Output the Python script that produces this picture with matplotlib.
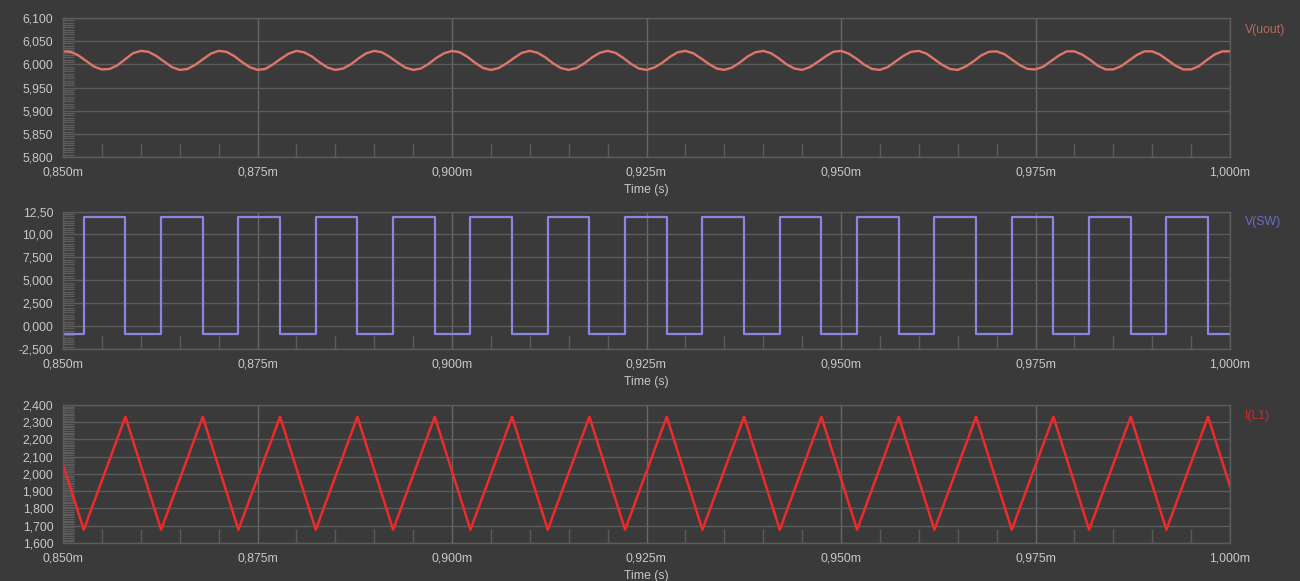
import matplotlib
matplotlib.use('Agg')
import matplotlib.pyplot as plt
from matplotlib.ticker import MultipleLocator
import numpy as np

plt.rcParams['font.family'] = ['Liberation Sans', 'DejaVu Sans']

# ---- data (time in ms) ----
# V(uout) sampled every 1 us from 0.850m to 1.000m
t_out = np.round(np.arange(0.850, 1.0005, 0.001), 3)
v_out = [6.028, 6.027, 6.019, 6.007, 5.995, 5.989, 5.990, 5.998, 6.011, 6.024,
         6.029, 6.027, 6.018, 6.006, 5.994, 5.988, 5.990, 5.999, 6.011, 6.023,
         6.029, 6.027, 6.018, 6.005, 5.994, 5.988, 5.990, 6.000, 6.012, 6.023,
         6.029, 6.026, 6.017, 6.004, 5.993, 5.988, 5.991, 6.000, 6.013, 6.024,
         6.029, 6.026, 6.016, 6.004, 5.993, 5.988, 5.991, 6.001, 6.014, 6.024,
         6.029, 6.026, 6.016, 6.003, 5.992, 5.988, 5.992, 6.002, 6.014, 6.025,
         6.029, 6.025, 6.015, 6.002, 5.992, 5.988, 5.992, 6.002, 6.015, 6.025,
         6.029, 6.025, 6.014, 6.001, 5.991, 5.988, 5.993, 6.003, 6.016, 6.026,
         6.029, 6.024, 6.013, 6.001, 5.991, 5.988, 5.993, 6.004, 6.017, 6.026,
         6.029, 6.024, 6.013, 6.000, 5.991, 5.988, 5.994, 6.005, 6.017, 6.027,
         6.029, 6.023, 6.012, 5.999, 5.990, 5.988, 5.994, 6.006, 6.018, 6.027,
         6.029, 6.023, 6.011, 5.999, 5.990, 5.988, 5.995, 6.006, 6.019, 6.027,
         6.028, 6.022, 6.010, 5.998, 5.990, 5.989, 5.995, 6.007, 6.019, 6.028,
         6.028, 6.021, 6.010, 5.997, 5.989, 5.989, 5.996, 6.008, 6.020, 6.028,
         6.028, 6.021, 6.009, 5.997, 5.989, 5.989, 5.996, 6.009, 6.021, 6.028,
         6.028]

# V(SW): switch-on / switch-off instants and levels
sw_on = [0.85267, 0.86261, 0.87255, 0.88249, 0.89243, 0.90237, 0.91231, 0.92225,
         0.93219, 0.94213, 0.95207, 0.96201, 0.97195, 0.98189, 0.99183]
sw_off = [0.85802, 0.86796, 0.87790, 0.88784, 0.89778, 0.90772, 0.91766, 0.92760,
          0.93754, 0.94748, 0.95742, 0.96736, 0.97730, 0.98724, 0.99718]
sw_high = 11.9
sw_low = -0.85

# I(L1): valley / peak instants and values
il_valley_t = [0.85267, 0.86261, 0.87255, 0.88249, 0.89243, 0.90237, 0.91231, 0.92225,
               0.93219, 0.94213, 0.95207, 0.96201, 0.97195, 0.98189, 0.99183]
il_peak_t = [0.85802, 0.86796, 0.87790, 0.88784, 0.89778, 0.90772, 0.91766, 0.92760,
             0.93754, 0.94748, 0.95742, 0.96736, 0.97730, 0.98724, 0.99718]
il_valley = 1.677
il_peak = 2.332
il_start = 2.055
il_end = 1.928

t_start, t_end = 0.850, 1.000
x_ticks = [0.850, 0.875, 0.900, 0.925, 0.950, 0.975, 1.000]
x_labels = ['0,850m', '0,875m', '0,900m', '0,925m', '0,950m', '0,975m', '1,000m']

y1_ticks = [5.80, 5.85, 5.90, 5.95, 6.00, 6.05, 6.10]
y1_labels = ['5,800', '5,850', '5,900', '5,950', '6,000', '6,050', '6,100']
y2_ticks = [-2.5, 0.0, 2.5, 5.0, 7.5, 10.0, 12.5]
y2_labels = ['-2,500', '0,000', '2,500', '5,000', '7,500', '10,00', '12,50']
y3_ticks = [1.6, 1.7, 1.8, 1.9, 2.0, 2.1, 2.2, 2.3, 2.4]
y3_labels = ['1,600', '1,700', '1,800', '1,900', '2,000', '2,100', '2,200', '2,300', '2,400']

# build step / triangle series
sw_t = [t_start]
sw_v = [sw_low]
for a, b in zip(sw_on, sw_off):
    sw_t += [a, b]
    sw_v += [sw_high, sw_low]
sw_t.append(t_end)
sw_v.append(sw_low)

il_t = [t_start]
il_v = [il_start]
for a, b in zip(il_valley_t, il_peak_t):
    il_t += [a, b]
    il_v += [il_valley, il_peak]
il_t.append(t_end)
il_v.append(il_end)

# ---- style ----
bg = '#3a3a3a'
grid_c = '#5c5c5c'
vgrid_c = '#676767'
text_c = '#c8c8c8'

fig = plt.figure(figsize=(13, 5.81), dpi=100, facecolor=bg)
L, W = 63 / 1300, 1167 / 1300
ax1 = fig.add_axes([L, 1 - 157 / 581, W, 139 / 581])
ax2 = fig.add_axes([L, 1 - 349 / 581, W, 137.5 / 581])
ax3 = fig.add_axes([L, 1 - 543 / 581, W, 138 / 581])

ax1.plot(t_out, v_out, color='#e0766a', lw=1.7)
ax2.step(sw_t, sw_v, where='post', color='#8a85e0', lw=1.6)
ax3.plot(il_t, il_v, color='#ee2a2a', lw=1.8)

panels = [(ax1, y1_ticks, y1_labels, 0.005),
          (ax2, y2_ticks, y2_labels, 0.25),
          (ax3, y3_ticks, y3_labels, 0.01)]
for ax, yt, yl, ym in panels:
    ax.set_facecolor(bg)
    ax.set_xlim(t_start, t_end)
    ax.set_ylim(yt[0], yt[-1])
    ax.set_xticks(x_ticks)
    ax.set_xticklabels(x_labels)
    ax.set_yticks(yt)
    ax.set_yticklabels(yl)
    ax.xaxis.set_minor_locator(MultipleLocator(0.005))
    ax.yaxis.set_minor_locator(MultipleLocator(ym))
    ax.tick_params(which='major', length=0, colors=text_c, labelsize=8.8)
    ax.tick_params(axis='x', which='major', pad=7)
    ax.tick_params(axis='y', which='major', pad=7)
    ax.tick_params(which='minor', direction='in', color=grid_c, width=1)
    ax.tick_params(axis='x', which='minor', length=10)
    ax.tick_params(axis='y', which='minor', length=8)
    ax.grid(True, axis='y', which='major', color=grid_c, lw=1)
    ax.grid(True, axis='x', which='major', color=vgrid_c, lw=1)
    for s in ax.spines.values():
        s.set_color(grid_c)
        s.set_linewidth(1)
    ax.set_axisbelow(True)
    ax.set_xlabel('Time (s)', color=text_c, fontsize=8.8, labelpad=3.5)

fig.text(1245 / 1300, 1 - 30 / 581, 'V(uout)', color='#b86a5e', fontsize=8.8, va='center')
fig.text(1245 / 1300, 1 - 222 / 581, 'V(SW)', color='#6e6bc4', fontsize=8.8, va='center')
fig.text(1245 / 1300, 1 - 416 / 581, 'I(L1)', color='#d02a2a', fontsize=8.8, va='center')

fig.savefig('out.png', dpi=100, facecolor=bg)
